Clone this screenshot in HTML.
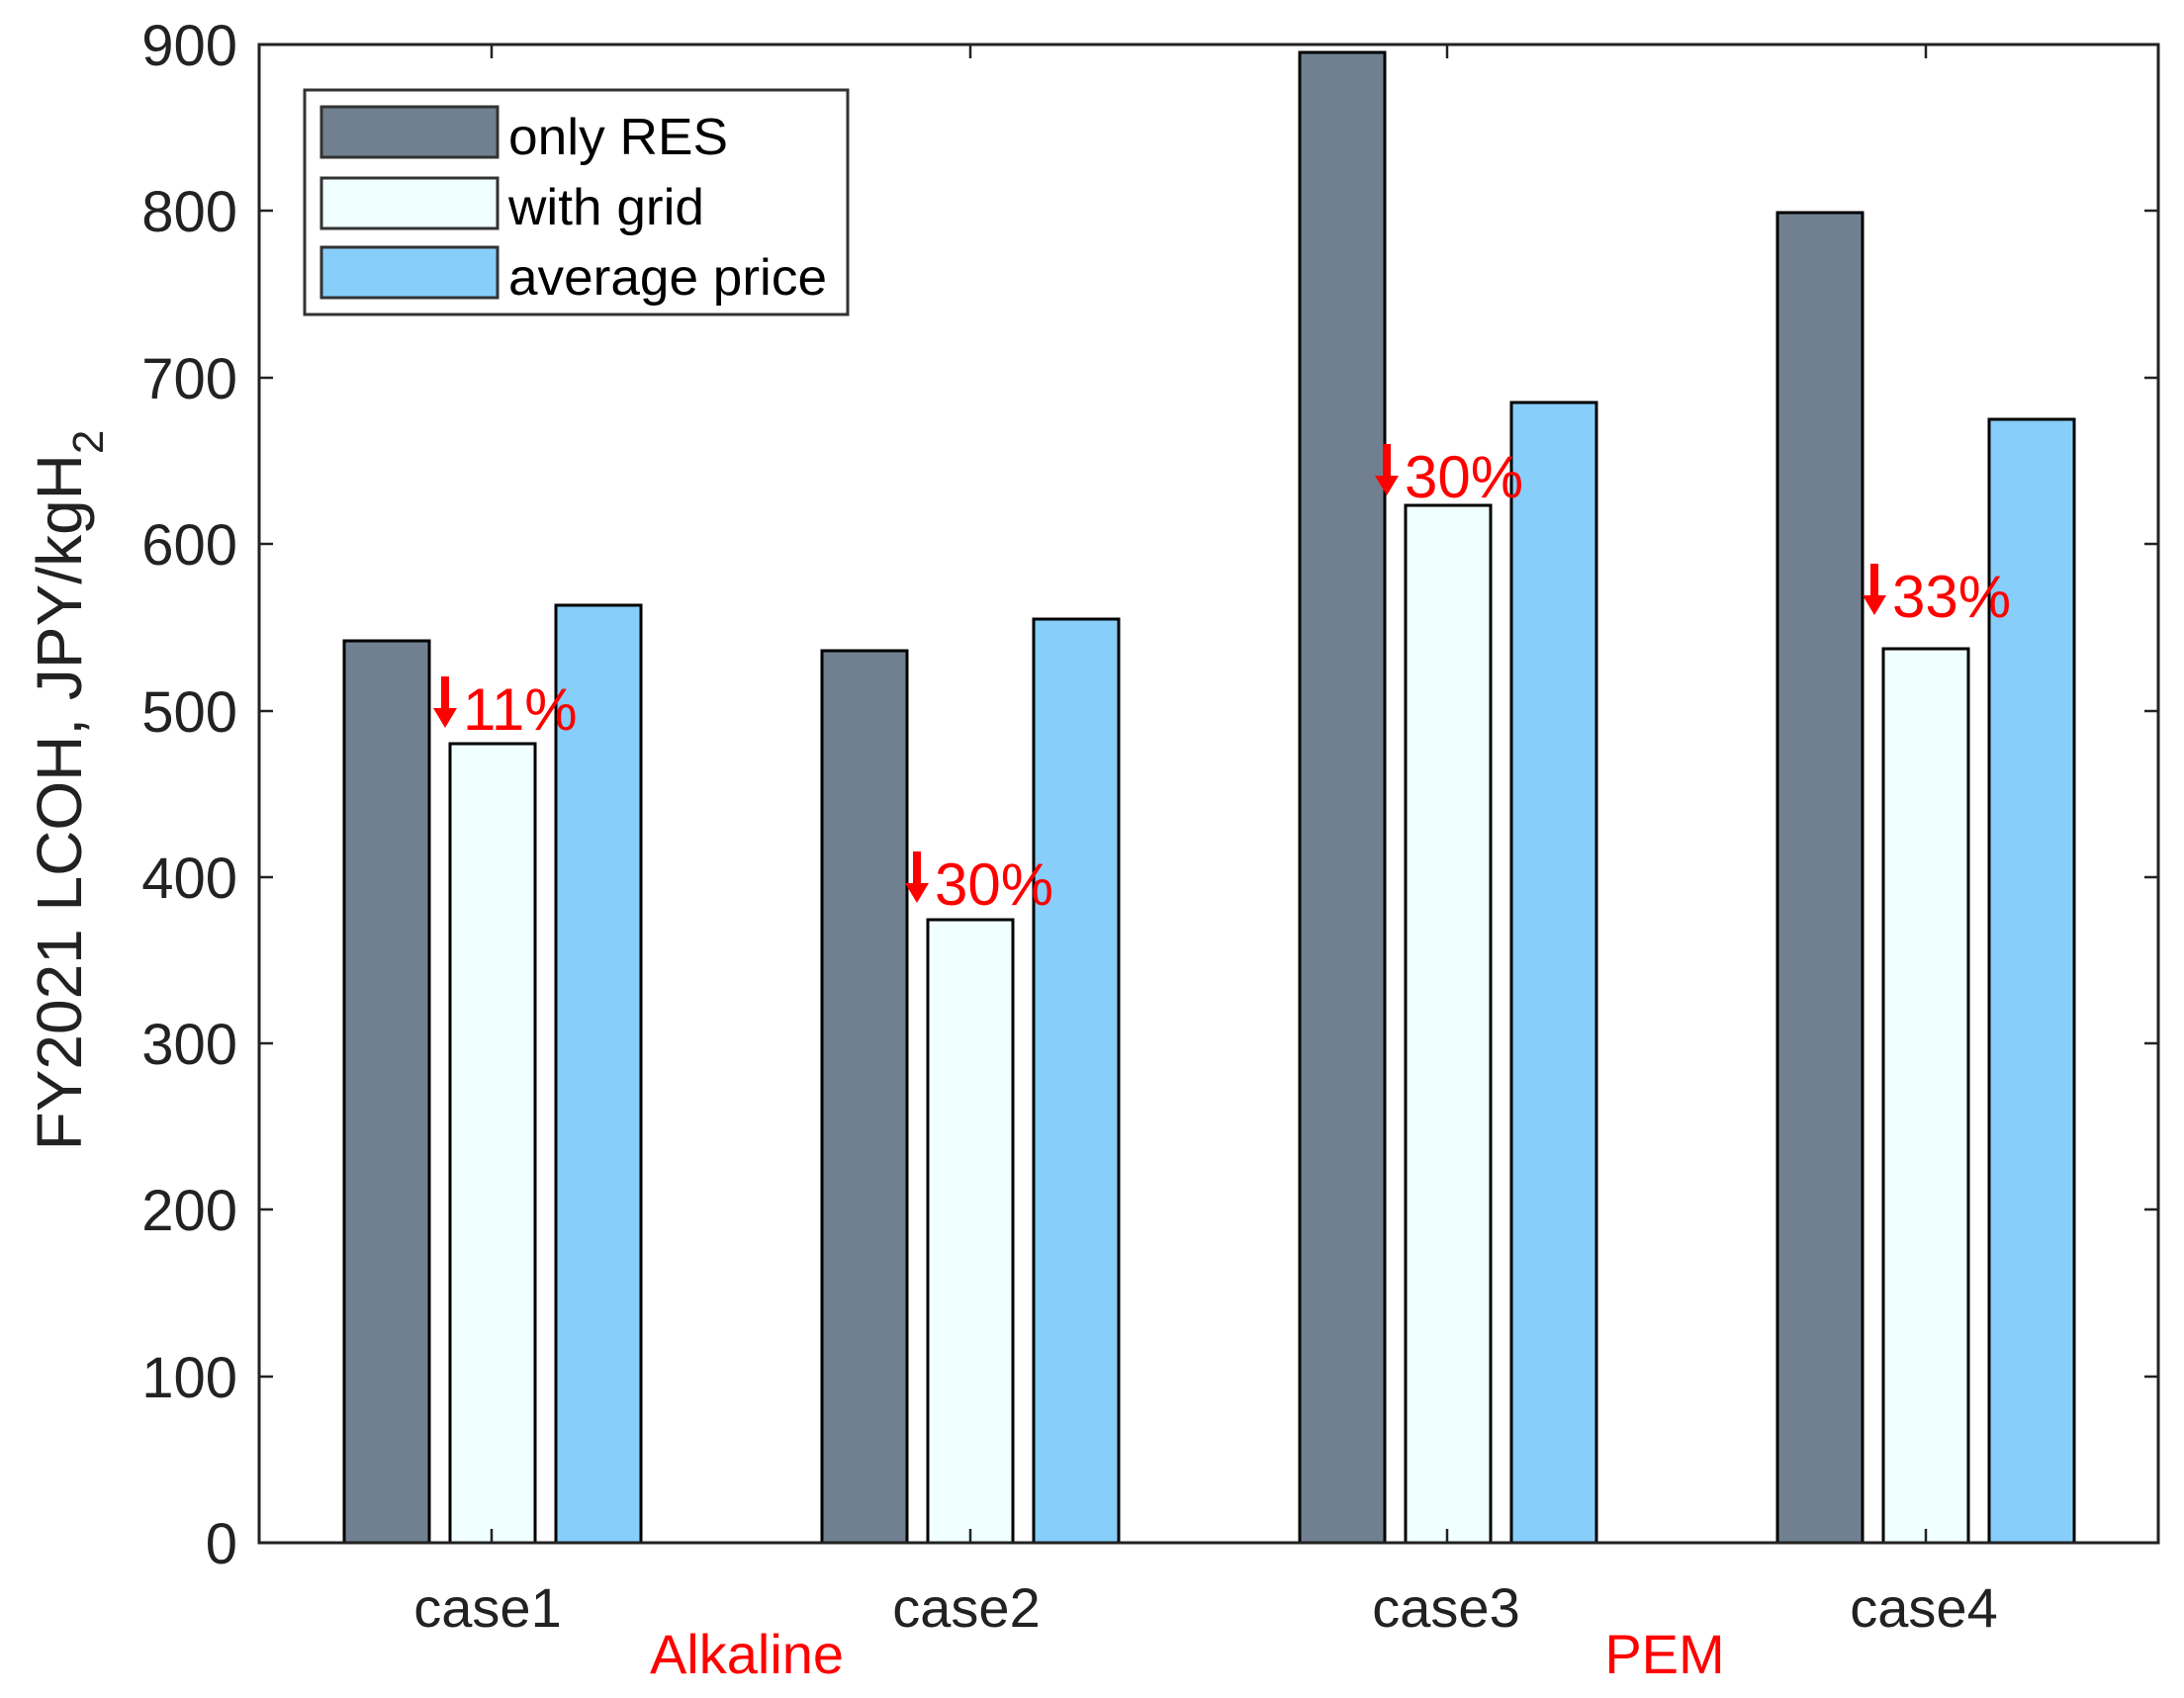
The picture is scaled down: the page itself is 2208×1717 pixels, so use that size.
<!DOCTYPE html>
<html><head><meta charset="utf-8"><style>html,body{margin:0;padding:0;background:#fff}svg{display:block}</style></head>
<body>
<svg width="2208" height="1717" viewBox="0 0 2208 1717" xmlns="http://www.w3.org/2000/svg" font-family="Liberation Sans, Arial, sans-serif">
<rect width="2208" height="1717" fill="#fff"/>
<g stroke="#000" stroke-width="3">
<rect x="348" y="648" width="86" height="912" fill="#708090"/>
<rect x="455" y="752" width="86" height="808" fill="#F0FFFF"/>
<rect x="562" y="612" width="86" height="948" fill="#87CEFA"/>
<rect x="831" y="658" width="86" height="902" fill="#708090"/>
<rect x="938" y="930" width="86" height="630" fill="#F0FFFF"/>
<rect x="1045" y="626" width="86" height="934" fill="#87CEFA"/>
<rect x="1314" y="53" width="86" height="1507" fill="#708090"/>
<rect x="1421" y="511" width="86" height="1049" fill="#F0FFFF"/>
<rect x="1528" y="407" width="86" height="1153" fill="#87CEFA"/>
<rect x="1797" y="215" width="86" height="1345" fill="#708090"/>
<rect x="1904" y="656" width="86" height="904" fill="#F0FFFF"/>
<rect x="2011" y="424" width="86" height="1136" fill="#87CEFA"/>
</g>
<rect x="262" y="45" width="1920" height="1515" fill="none" stroke="#222" stroke-width="3"/>
<g stroke="#222" stroke-width="2.5">
<path d="M262 45h14M262 213h14M262 382h14M262 550h14M262 719h14M262 887h14M262 1055h14M262 1223h14M262 1392h14"/>
<path d="M2182 45h-14M2182 213h-14M2182 382h-14M2182 550h-14M2182 719h-14M2182 887h-14M2182 1055h-14M2182 1223h-14M2182 1392h-14"/>
<path d="M497 1560v-14M981 1560v-14M1463 1560v-14M1947 1560v-14M497 45v14M981 45v14M1463 45v14M1947 45v14"/>
</g>
<g font-size="58" fill="#222" text-anchor="end">
<text x="240" y="66">900</text><text x="240" y="234">800</text><text x="240" y="403">700</text>
<text x="240" y="571">600</text><text x="240" y="740">500</text><text x="240" y="908">400</text>
<text x="240" y="1076">300</text><text x="240" y="1244">200</text><text x="240" y="1413">100</text>
<text x="240" y="1581">0</text>
</g>
<text transform="translate(82,799) rotate(-90)" font-size="64" fill="#222" text-anchor="middle">FY2021 LCOH, JPY/kgH<tspan font-size="44" dy="22">2</tspan></text>
<g font-size="56" fill="#222" text-anchor="middle">
<text x="493" y="1645">case1</text><text x="977" y="1645">case2</text><text x="1462" y="1645">case3</text><text x="1945" y="1645">case4</text>
</g>
<g font-size="56" fill="#f00" text-anchor="middle">
<text x="755" y="1692">Alkaline</text><text x="1683" y="1692">PEM</text>
</g>
<g fill="#f00">
<path d="M446 684h8v32h8l-12 20l-12-20h8z"/>
<path d="M923 861h8v32h8l-12 20l-12-20h8z"/>
<path d="M1398 449h8v32h8l-12 20l-12-20h8z"/>
<path d="M1891 570h8v32h8l-12 20l-12-20h8z"/>
</g>
<g font-size="60" fill="#f00">
<text x="468" y="738">11%</text>
<text x="945" y="915">30%</text>
<text x="1420" y="503">30%</text>
<text x="1913" y="624">33%</text>
</g>
<rect x="308" y="91" width="549" height="227" fill="#fff" stroke="#333" stroke-width="3"/>
<g stroke="#333" stroke-width="3">
<rect x="325" y="108" width="178" height="51" fill="#708090"/>
<rect x="325" y="180" width="178" height="51" fill="#F0FFFF"/>
<rect x="325" y="250" width="178" height="51" fill="#87CEFA"/>
</g>
<g font-size="52" fill="#000">
<text x="514" y="156" textLength="222" lengthAdjust="spacingAndGlyphs">only RES</text>
<text x="514" y="227" textLength="198" lengthAdjust="spacingAndGlyphs">with grid</text>
<text x="514" y="298" textLength="322" lengthAdjust="spacingAndGlyphs">average price</text>
</g>
</svg>
</body></html>
